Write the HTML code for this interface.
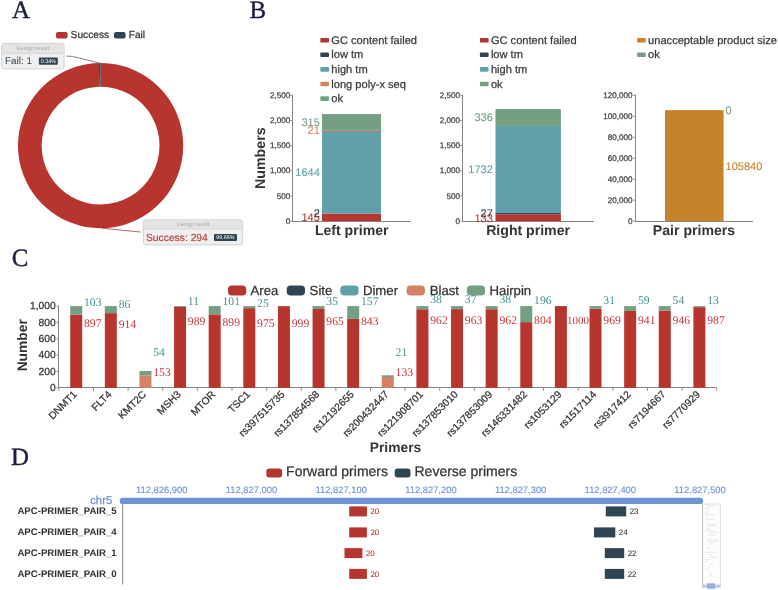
<!DOCTYPE html>
<html><head><meta charset="utf-8"><style>
html,body{margin:0;padding:0;background:#fff;}
body{width:778px;height:590px;overflow:hidden;font-family:"Liberation Sans",sans-serif;}
svg{display:block;text-rendering:geometricPrecision;}
#wrap{width:778px;height:590px;will-change:transform;}
</style></head><body>
<div id="wrap">
<svg width="778" height="590" viewBox="0 0 778 590">
<rect width="778" height="590" fill="#fff"/>
<text x="0" y="0" font-size="250" fill="#1b1f3d" stroke="#1b1f3d" stroke-width="4" font-family="Liberation Serif" transform="translate(12.0,18.0) scale(0.1)">A</text>
<text x="0" y="0" font-size="250" fill="#1b1f3d" stroke="#1b1f3d" stroke-width="4" font-family="Liberation Serif" transform="translate(249.5,18.0) scale(0.1)">B</text>
<text x="0" y="0" font-size="250" fill="#1b1f3d" stroke="#1b1f3d" stroke-width="4" font-family="Liberation Serif" transform="translate(11.8,265.8) scale(0.1)">C</text>
<text x="0" y="0" font-size="250" fill="#1b1f3d" stroke="#1b1f3d" stroke-width="4" font-family="Liberation Serif" transform="translate(11.0,465.0) scale(0.1)">D</text>
<rect x="56.00" y="32.10" width="11.60" height="6.40" rx="2" fill="#b7352f" />
<text x="70.60" y="38.30" font-size="10.2" fill="#333" stroke="#333" stroke-width="0.25" text-anchor="start" font-weight="normal" font-family="Liberation Sans" >Success</text>
<rect x="114.00" y="32.10" width="11.60" height="6.40" rx="2" fill="#2f4554" />
<text x="128.70" y="38.30" font-size="10.2" fill="#333" stroke="#333" stroke-width="0.25" text-anchor="start" font-weight="normal" font-family="Liberation Sans" >Fail</text>
<path d="M100.600,63.000 A82.6,82.6 0 1 1 98.841,63.019 L99.346,86.713 A58.9,58.9 0 1 0 100.600,86.700 Z" fill="#b7352f"/>
<path d="M98.841,63.019 A82.6,82.6 0 0 1 100.599,63.000 L100.599,86.700 A58.9,58.9 0 0 0 99.346,86.713 Z" fill="#2f4554"/>
<rect x="1.60" y="43.40" width="62.50" height="25.50" rx="2.5" fill="#efefef" stroke="#d2d2d2" stroke-width="1"/>
<path d="M2.10,53.40 L2.10,45.90 Q2.10,43.90 4.10,43.90 L61.60,43.90 Q63.60,43.90 63.60,45.90 L63.60,53.40 Z" fill="#e4e4e4"/>
<line x1="2.10" y1="53.40" x2="63.60" y2="53.40" stroke="#d2d2d2" stroke-width="0.8"/>
<text x="32.85" y="50.15" font-size="5.6" fill="#aaa" text-anchor="middle" font-weight="normal" font-family="Liberation Sans" >Design result</text>
<text x="5.00" y="64.10" font-size="9.9" fill="#46525c" stroke="#46525c" stroke-width="0.1" text-anchor="start" font-weight="normal" font-family="Liberation Sans" >Fail: 1</text>
<rect x="38.90" y="57.60" width="18.90" height="7.20" rx="1" fill="#2f4554" />
<text x="48.35" y="62.90" font-size="5.4" fill="#fff" text-anchor="middle" font-weight="normal" font-family="Liberation Sans" >0.34%</text>
<polyline points="66.2,56.1 72.5,56.4 100.2,63.2" fill="none" stroke="#5f666c" stroke-width="0.8"/>
<rect x="143.40" y="219.80" width="99.30" height="25.10" rx="2.5" fill="#efefef" stroke="#d2d2d2" stroke-width="1"/>
<path d="M143.90,229.00 L143.90,222.30 Q143.90,220.30 145.90,220.30 L240.20,220.30 Q242.20,220.30 242.20,222.30 L242.20,229.00 Z" fill="#e4e4e4"/>
<line x1="143.90" y1="229.00" x2="242.20" y2="229.00" stroke="#d2d2d2" stroke-width="0.8"/>
<text x="193.05" y="226.15" font-size="5.6" fill="#aaa" text-anchor="middle" font-weight="normal" font-family="Liberation Sans" >Design result</text>
<text x="146.00" y="240.80" font-size="10.3" fill="#b7352f" stroke="#b7352f" stroke-width="0.1" text-anchor="start" font-weight="normal" font-family="Liberation Sans" >Success: 294</text>
<rect x="214.00" y="234.00" width="23.00" height="6.90" rx="1" fill="#2f4554" />
<text x="225.50" y="239.00" font-size="5.4" fill="#fff" text-anchor="middle" font-weight="normal" font-family="Liberation Sans" >99.66%</text>
<polyline points="102,228.2 140.4,232.0" fill="none" stroke="#b7352f" stroke-width="0.8"/>
<rect x="320.30" y="37.90" width="8.70" height="4.60" rx="1" fill="#b7352f" />
<text x="331.30" y="43.80" font-size="11.1" fill="#3a3a3a" stroke="#3a3a3a" stroke-width="0.25" text-anchor="start" font-weight="normal" font-family="Liberation Sans" >GC content failed</text>
<rect x="320.30" y="52.50" width="8.70" height="4.60" rx="1" fill="#2f4554" />
<text x="331.30" y="58.40" font-size="11.1" fill="#3a3a3a" stroke="#3a3a3a" stroke-width="0.25" text-anchor="start" font-weight="normal" font-family="Liberation Sans" >low tm</text>
<rect x="320.30" y="67.10" width="8.70" height="4.60" rx="1" fill="#61a0a8" />
<text x="331.30" y="73.00" font-size="11.1" fill="#3a3a3a" stroke="#3a3a3a" stroke-width="0.25" text-anchor="start" font-weight="normal" font-family="Liberation Sans" >high tm</text>
<rect x="320.30" y="81.70" width="8.70" height="4.60" rx="1" fill="#d48265" />
<text x="331.30" y="87.60" font-size="11.1" fill="#3a3a3a" stroke="#3a3a3a" stroke-width="0.25" text-anchor="start" font-weight="normal" font-family="Liberation Sans" >long poly-x seq</text>
<rect x="320.30" y="96.30" width="8.70" height="4.60" rx="1" fill="#749f83" />
<text x="331.30" y="102.20" font-size="11.1" fill="#3a3a3a" stroke="#3a3a3a" stroke-width="0.25" text-anchor="start" font-weight="normal" font-family="Liberation Sans" >ok</text>
<rect x="479.90" y="37.90" width="8.70" height="4.60" rx="1" fill="#b7352f" />
<text x="490.90" y="43.80" font-size="11.1" fill="#3a3a3a" stroke="#3a3a3a" stroke-width="0.25" text-anchor="start" font-weight="normal" font-family="Liberation Sans" >GC content failed</text>
<rect x="479.90" y="52.50" width="8.70" height="4.60" rx="1" fill="#2f4554" />
<text x="490.90" y="58.40" font-size="11.1" fill="#3a3a3a" stroke="#3a3a3a" stroke-width="0.25" text-anchor="start" font-weight="normal" font-family="Liberation Sans" >low tm</text>
<rect x="479.90" y="67.10" width="8.70" height="4.60" rx="1" fill="#61a0a8" />
<text x="490.90" y="73.00" font-size="11.1" fill="#3a3a3a" stroke="#3a3a3a" stroke-width="0.25" text-anchor="start" font-weight="normal" font-family="Liberation Sans" >high tm</text>
<rect x="479.90" y="81.70" width="8.70" height="4.60" rx="1" fill="#749f83" />
<text x="490.90" y="87.60" font-size="11.1" fill="#3a3a3a" stroke="#3a3a3a" stroke-width="0.25" text-anchor="start" font-weight="normal" font-family="Liberation Sans" >ok</text>
<rect x="637.10" y="37.90" width="8.70" height="4.60" rx="1" fill="#c5842a" />
<text x="648.10" y="43.80" font-size="11.1" fill="#3a3a3a" stroke="#3a3a3a" stroke-width="0.25" text-anchor="start" font-weight="normal" font-family="Liberation Sans" >unacceptable product size</text>
<rect x="637.10" y="52.50" width="8.70" height="4.60" rx="1" fill="#749f83" />
<text x="648.10" y="58.40" font-size="11.1" fill="#3a3a3a" stroke="#3a3a3a" stroke-width="0.25" text-anchor="start" font-weight="normal" font-family="Liberation Sans" >ok</text>
<line x1="292.50" y1="94.80" x2="292.50" y2="221.50" stroke="#858585" stroke-width="1"/>
<line x1="290.30" y1="95.30" x2="292.50" y2="95.30" stroke="#858585" stroke-width="0.9"/>
<text x="290.30" y="97.90" font-size="8.1" fill="#444" stroke="#444" stroke-width="0.25" text-anchor="end" font-weight="normal" font-family="Liberation Sans" >2,500</text>
<line x1="290.30" y1="120.46" x2="292.50" y2="120.46" stroke="#858585" stroke-width="0.9"/>
<text x="290.30" y="123.06" font-size="8.1" fill="#444" stroke="#444" stroke-width="0.25" text-anchor="end" font-weight="normal" font-family="Liberation Sans" >2,000</text>
<line x1="290.30" y1="145.62" x2="292.50" y2="145.62" stroke="#858585" stroke-width="0.9"/>
<text x="290.30" y="148.22" font-size="8.1" fill="#444" stroke="#444" stroke-width="0.25" text-anchor="end" font-weight="normal" font-family="Liberation Sans" >1,500</text>
<line x1="290.30" y1="170.78" x2="292.50" y2="170.78" stroke="#858585" stroke-width="0.9"/>
<text x="290.30" y="173.38" font-size="8.1" fill="#444" stroke="#444" stroke-width="0.25" text-anchor="end" font-weight="normal" font-family="Liberation Sans" >1,000</text>
<line x1="290.30" y1="195.94" x2="292.50" y2="195.94" stroke="#858585" stroke-width="0.9"/>
<text x="290.30" y="198.54" font-size="8.1" fill="#444" stroke="#444" stroke-width="0.25" text-anchor="end" font-weight="normal" font-family="Liberation Sans" >500</text>
<line x1="290.30" y1="221.10" x2="292.50" y2="221.10" stroke="#858585" stroke-width="0.9"/>
<text x="290.30" y="223.70" font-size="8.1" fill="#444" stroke="#444" stroke-width="0.25" text-anchor="end" font-weight="normal" font-family="Liberation Sans" >0</text>
<line x1="292.50" y1="221.50" x2="410.60" y2="221.50" stroke="#858585" stroke-width="1"/>
<line x1="462.50" y1="94.80" x2="462.50" y2="221.50" stroke="#858585" stroke-width="1"/>
<line x1="460.30" y1="95.30" x2="462.50" y2="95.30" stroke="#858585" stroke-width="0.9"/>
<text x="459.90" y="97.90" font-size="8.1" fill="#444" stroke="#444" stroke-width="0.25" text-anchor="end" font-weight="normal" font-family="Liberation Sans" >2,500</text>
<line x1="460.30" y1="120.46" x2="462.50" y2="120.46" stroke="#858585" stroke-width="0.9"/>
<text x="459.90" y="123.06" font-size="8.1" fill="#444" stroke="#444" stroke-width="0.25" text-anchor="end" font-weight="normal" font-family="Liberation Sans" >2,000</text>
<line x1="460.30" y1="145.62" x2="462.50" y2="145.62" stroke="#858585" stroke-width="0.9"/>
<text x="459.90" y="148.22" font-size="8.1" fill="#444" stroke="#444" stroke-width="0.25" text-anchor="end" font-weight="normal" font-family="Liberation Sans" >1,500</text>
<line x1="460.30" y1="170.78" x2="462.50" y2="170.78" stroke="#858585" stroke-width="0.9"/>
<text x="459.90" y="173.38" font-size="8.1" fill="#444" stroke="#444" stroke-width="0.25" text-anchor="end" font-weight="normal" font-family="Liberation Sans" >1,000</text>
<line x1="460.30" y1="195.94" x2="462.50" y2="195.94" stroke="#858585" stroke-width="0.9"/>
<text x="459.90" y="198.54" font-size="8.1" fill="#444" stroke="#444" stroke-width="0.25" text-anchor="end" font-weight="normal" font-family="Liberation Sans" >500</text>
<line x1="460.30" y1="221.10" x2="462.50" y2="221.10" stroke="#858585" stroke-width="0.9"/>
<text x="459.90" y="223.70" font-size="8.1" fill="#444" stroke="#444" stroke-width="0.25" text-anchor="end" font-weight="normal" font-family="Liberation Sans" >0</text>
<line x1="462.50" y1="221.50" x2="593.90" y2="221.50" stroke="#858585" stroke-width="1"/>
<line x1="635.50" y1="94.80" x2="635.50" y2="221.50" stroke="#858585" stroke-width="1"/>
<line x1="633.30" y1="95.30" x2="635.50" y2="95.30" stroke="#858585" stroke-width="0.9"/>
<text x="632.50" y="97.90" font-size="8.1" fill="#444" stroke="#444" stroke-width="0.25" text-anchor="end" font-weight="normal" font-family="Liberation Sans" >120,000</text>
<line x1="633.30" y1="116.27" x2="635.50" y2="116.27" stroke="#858585" stroke-width="0.9"/>
<text x="632.50" y="118.87" font-size="8.1" fill="#444" stroke="#444" stroke-width="0.25" text-anchor="end" font-weight="normal" font-family="Liberation Sans" >100,000</text>
<line x1="633.30" y1="137.23" x2="635.50" y2="137.23" stroke="#858585" stroke-width="0.9"/>
<text x="632.50" y="139.83" font-size="8.1" fill="#444" stroke="#444" stroke-width="0.25" text-anchor="end" font-weight="normal" font-family="Liberation Sans" >80,000</text>
<line x1="633.30" y1="158.20" x2="635.50" y2="158.20" stroke="#858585" stroke-width="0.9"/>
<text x="632.50" y="160.80" font-size="8.1" fill="#444" stroke="#444" stroke-width="0.25" text-anchor="end" font-weight="normal" font-family="Liberation Sans" >60,000</text>
<line x1="633.30" y1="179.17" x2="635.50" y2="179.17" stroke="#858585" stroke-width="0.9"/>
<text x="632.50" y="181.77" font-size="8.1" fill="#444" stroke="#444" stroke-width="0.25" text-anchor="end" font-weight="normal" font-family="Liberation Sans" >40,000</text>
<line x1="633.30" y1="200.13" x2="635.50" y2="200.13" stroke="#858585" stroke-width="0.9"/>
<text x="632.50" y="202.73" font-size="8.1" fill="#444" stroke="#444" stroke-width="0.25" text-anchor="end" font-weight="normal" font-family="Liberation Sans" >20,000</text>
<line x1="633.30" y1="221.10" x2="635.50" y2="221.10" stroke="#858585" stroke-width="0.9"/>
<text x="632.50" y="223.70" font-size="8.1" fill="#444" stroke="#444" stroke-width="0.25" text-anchor="end" font-weight="normal" font-family="Liberation Sans" >0</text>
<line x1="635.50" y1="221.50" x2="753.00" y2="221.50" stroke="#858585" stroke-width="1"/>
<rect x="322.00" y="213.80" width="59.00" height="7.30" rx="0" fill="#b7352f" />
<rect x="322.00" y="213.70" width="59.00" height="0.10" rx="0" fill="#2f4554" />
<rect x="322.00" y="130.98" width="59.00" height="82.73" rx="0" fill="#61a0a8" />
<rect x="322.00" y="129.92" width="59.00" height="1.06" rx="0" fill="#d48265" />
<rect x="322.00" y="114.07" width="59.00" height="15.85" rx="0" fill="#749f83" />
<text x="319.80" y="221.35" font-size="11.0" fill="#b7352f" stroke="#b7352f" stroke-width="0.1" text-anchor="end" font-weight="normal" font-family="Liberation Sans" >145</text>
<text x="319.80" y="216.75" font-size="11.0" fill="#2f4554" stroke="#2f4554" stroke-width="0.1" text-anchor="end" font-weight="normal" font-family="Liberation Sans" >2</text>
<text x="319.80" y="176.24" font-size="11.0" fill="#61a0a8" stroke="#61a0a8" stroke-width="0.1" text-anchor="end" font-weight="normal" font-family="Liberation Sans" >1644</text>
<text x="319.80" y="134.35" font-size="11.0" fill="#d48265" stroke="#d48265" stroke-width="0.1" text-anchor="end" font-weight="normal" font-family="Liberation Sans" >21</text>
<text x="319.80" y="125.89" font-size="11.0" fill="#749f83" stroke="#749f83" stroke-width="0.1" text-anchor="end" font-weight="normal" font-family="Liberation Sans" >315</text>
<rect x="495.50" y="214.41" width="65.40" height="6.69" rx="0" fill="#b7352f" />
<rect x="495.50" y="213.05" width="65.40" height="1.36" rx="0" fill="#2f4554" />
<rect x="495.50" y="125.89" width="65.40" height="87.15" rx="0" fill="#61a0a8" />
<rect x="495.50" y="108.99" width="65.40" height="16.91" rx="0" fill="#749f83" />
<text x="492.80" y="221.65" font-size="11.0" fill="#b7352f" stroke="#b7352f" stroke-width="0.1" text-anchor="end" font-weight="normal" font-family="Liberation Sans" >133</text>
<text x="492.80" y="216.73" font-size="11.0" fill="#2f4554" stroke="#2f4554" stroke-width="0.1" text-anchor="end" font-weight="normal" font-family="Liberation Sans" >27</text>
<text x="492.80" y="173.37" font-size="11.0" fill="#61a0a8" stroke="#61a0a8" stroke-width="0.1" text-anchor="end" font-weight="normal" font-family="Liberation Sans" >1732</text>
<text x="492.80" y="121.34" font-size="11.0" fill="#749f83" stroke="#749f83" stroke-width="0.1" text-anchor="end" font-weight="normal" font-family="Liberation Sans" >336</text>
<rect x="665.00" y="110.14" width="58.60" height="110.96" rx="0" fill="#c5842a" />
<text x="725.40" y="114.04" font-size="11.0" fill="#749f83" stroke="#749f83" stroke-width="0.1" text-anchor="start" font-weight="normal" font-family="Liberation Sans" >0</text>
<text x="725.60" y="169.52" font-size="11.0" fill="#c5842a" stroke="#c5842a" stroke-width="0.1" text-anchor="start" font-weight="normal" font-family="Liberation Sans" >105840</text>
<text x="351.70" y="234.60" font-size="14.1" fill="#333" text-anchor="middle" font-weight="bold" font-family="Liberation Sans" >Left primer</text>
<text x="528.10" y="234.60" font-size="14.1" fill="#333" text-anchor="middle" font-weight="bold" font-family="Liberation Sans" >Right primer</text>
<text x="694.00" y="234.60" font-size="14.1" fill="#333" text-anchor="middle" font-weight="bold" font-family="Liberation Sans" >Pair primers</text>
<text x="0.00" y="0.00" font-size="14.2" fill="#333" text-anchor="middle" font-weight="bold" font-family="Liberation Sans" transform="translate(265.0,158.2) rotate(-90)">Numbers</text>
<rect x="228.00" y="285.60" width="18.30" height="10.00" rx="4" fill="#b7352f" />
<text x="250.50" y="295.10" font-size="13.2" fill="#333" stroke="#333" stroke-width="0.25" text-anchor="start" font-weight="normal" font-family="Liberation Sans" >Area</text>
<rect x="286.70" y="285.60" width="18.30" height="10.00" rx="4" fill="#2f4554" />
<text x="309.60" y="295.10" font-size="13.2" fill="#333" stroke="#333" stroke-width="0.25" text-anchor="start" font-weight="normal" font-family="Liberation Sans" >Site</text>
<rect x="340.30" y="285.60" width="18.30" height="10.00" rx="4" fill="#61a0a8" />
<text x="362.90" y="295.10" font-size="13.2" fill="#333" stroke="#333" stroke-width="0.25" text-anchor="start" font-weight="normal" font-family="Liberation Sans" >Dimer</text>
<rect x="406.60" y="285.60" width="18.30" height="10.00" rx="4" fill="#d48265" />
<text x="429.70" y="295.10" font-size="13.2" fill="#333" stroke="#333" stroke-width="0.25" text-anchor="start" font-weight="normal" font-family="Liberation Sans" >Blast</text>
<rect x="466.80" y="285.60" width="18.30" height="10.00" rx="4" fill="#749f83" />
<text x="489.40" y="295.10" font-size="13.2" fill="#333" stroke="#333" stroke-width="0.25" text-anchor="start" font-weight="normal" font-family="Liberation Sans" >Hairpin</text>
<line x1="58.50" y1="305.60" x2="58.50" y2="387.50" stroke="#858585" stroke-width="1"/>
<line x1="56.40" y1="306.10" x2="58.90" y2="306.10" stroke="#858585" stroke-width="0.9"/>
<text x="55.70" y="309.30" font-size="10.3" fill="#333" stroke="#333" stroke-width="0.25" text-anchor="end" font-weight="normal" font-family="Liberation Sans" >1,000</text>
<line x1="56.40" y1="322.46" x2="58.90" y2="322.46" stroke="#858585" stroke-width="0.9"/>
<text x="55.70" y="325.66" font-size="10.3" fill="#333" stroke="#333" stroke-width="0.25" text-anchor="end" font-weight="normal" font-family="Liberation Sans" >800</text>
<line x1="56.40" y1="338.82" x2="58.90" y2="338.82" stroke="#858585" stroke-width="0.9"/>
<text x="55.70" y="342.02" font-size="10.3" fill="#333" stroke="#333" stroke-width="0.25" text-anchor="end" font-weight="normal" font-family="Liberation Sans" >600</text>
<line x1="56.40" y1="355.18" x2="58.90" y2="355.18" stroke="#858585" stroke-width="0.9"/>
<text x="55.70" y="358.38" font-size="10.3" fill="#333" stroke="#333" stroke-width="0.25" text-anchor="end" font-weight="normal" font-family="Liberation Sans" >400</text>
<line x1="56.40" y1="371.54" x2="58.90" y2="371.54" stroke="#858585" stroke-width="0.9"/>
<text x="55.70" y="374.74" font-size="10.3" fill="#333" stroke="#333" stroke-width="0.25" text-anchor="end" font-weight="normal" font-family="Liberation Sans" >200</text>
<line x1="56.40" y1="387.90" x2="58.90" y2="387.90" stroke="#858585" stroke-width="0.9"/>
<text x="55.70" y="391.10" font-size="10.3" fill="#333" stroke="#333" stroke-width="0.25" text-anchor="end" font-weight="normal" font-family="Liberation Sans" >0</text>
<line x1="58.50" y1="387.50" x2="716.70" y2="387.50" stroke="#858585" stroke-width="1"/>
<line x1="58.90" y1="387.90" x2="58.90" y2="390.90" stroke="#858585" stroke-width="0.9"/>
<line x1="93.52" y1="387.90" x2="93.52" y2="390.90" stroke="#858585" stroke-width="0.9"/>
<line x1="128.14" y1="387.90" x2="128.14" y2="390.90" stroke="#858585" stroke-width="0.9"/>
<line x1="162.76" y1="387.90" x2="162.76" y2="390.90" stroke="#858585" stroke-width="0.9"/>
<line x1="197.38" y1="387.90" x2="197.38" y2="390.90" stroke="#858585" stroke-width="0.9"/>
<line x1="232.01" y1="387.90" x2="232.01" y2="390.90" stroke="#858585" stroke-width="0.9"/>
<line x1="266.63" y1="387.90" x2="266.63" y2="390.90" stroke="#858585" stroke-width="0.9"/>
<line x1="301.25" y1="387.90" x2="301.25" y2="390.90" stroke="#858585" stroke-width="0.9"/>
<line x1="335.87" y1="387.90" x2="335.87" y2="390.90" stroke="#858585" stroke-width="0.9"/>
<line x1="370.49" y1="387.90" x2="370.49" y2="390.90" stroke="#858585" stroke-width="0.9"/>
<line x1="405.11" y1="387.90" x2="405.11" y2="390.90" stroke="#858585" stroke-width="0.9"/>
<line x1="439.73" y1="387.90" x2="439.73" y2="390.90" stroke="#858585" stroke-width="0.9"/>
<line x1="474.35" y1="387.90" x2="474.35" y2="390.90" stroke="#858585" stroke-width="0.9"/>
<line x1="508.97" y1="387.90" x2="508.97" y2="390.90" stroke="#858585" stroke-width="0.9"/>
<line x1="543.59" y1="387.90" x2="543.59" y2="390.90" stroke="#858585" stroke-width="0.9"/>
<line x1="578.22" y1="387.90" x2="578.22" y2="390.90" stroke="#858585" stroke-width="0.9"/>
<line x1="612.84" y1="387.90" x2="612.84" y2="390.90" stroke="#858585" stroke-width="0.9"/>
<line x1="647.46" y1="387.90" x2="647.46" y2="390.90" stroke="#858585" stroke-width="0.9"/>
<line x1="682.08" y1="387.90" x2="682.08" y2="390.90" stroke="#858585" stroke-width="0.9"/>
<line x1="716.70" y1="387.90" x2="716.70" y2="390.90" stroke="#858585" stroke-width="0.9"/>
<rect x="70.21" y="314.53" width="12.00" height="73.37" rx="0" fill="#b7352f" />
<rect x="70.21" y="306.10" width="12.00" height="8.43" rx="0" fill="#749f83" />
<text x="84.01" y="326.60" font-size="11.7" fill="#c9393c" text-anchor="start" font-weight="normal" font-family="Liberation Serif" >897</text>
<text x="84.01" y="306.20" font-size="11.7" fill="#479393" text-anchor="start" font-weight="normal" font-family="Liberation Serif" >103</text>
<text x="0.00" y="0.00" font-size="10.25" fill="#333" stroke="#333" stroke-width="0.25" text-anchor="end" font-weight="normal" font-family="Liberation Sans" transform="translate(77.61,395.00) rotate(-45)">DNMT1</text>
<rect x="104.83" y="313.13" width="12.00" height="74.77" rx="0" fill="#b7352f" />
<rect x="104.83" y="306.10" width="12.00" height="7.03" rx="0" fill="#749f83" />
<text x="118.63" y="328.40" font-size="11.7" fill="#c9393c" text-anchor="start" font-weight="normal" font-family="Liberation Serif" >914</text>
<text x="118.63" y="307.50" font-size="11.7" fill="#479393" text-anchor="start" font-weight="normal" font-family="Liberation Serif" >86</text>
<text x="0.00" y="0.00" font-size="10.25" fill="#333" stroke="#333" stroke-width="0.25" text-anchor="end" font-weight="normal" font-family="Liberation Sans" transform="translate(112.23,395.00) rotate(-45)">FLT4</text>
<rect x="139.45" y="375.38" width="12.00" height="12.52" rx="0" fill="#d48265" />
<rect x="139.45" y="370.97" width="12.00" height="4.42" rx="0" fill="#749f83" />
<text x="153.25" y="375.80" font-size="11.7" fill="#c9393c" text-anchor="start" font-weight="normal" font-family="Liberation Serif" >153</text>
<text x="153.25" y="355.70" font-size="11.7" fill="#479393" text-anchor="start" font-weight="normal" font-family="Liberation Serif" >54</text>
<text x="0.00" y="0.00" font-size="10.25" fill="#333" stroke="#333" stroke-width="0.25" text-anchor="end" font-weight="normal" font-family="Liberation Sans" transform="translate(146.85,395.00) rotate(-45)">KMT2C</text>
<rect x="174.07" y="307.00" width="12.00" height="80.90" rx="0" fill="#b7352f" />
<rect x="174.07" y="306.10" width="12.00" height="0.90" rx="0" fill="#749f83" />
<text x="187.87" y="325.40" font-size="11.7" fill="#c9393c" text-anchor="start" font-weight="normal" font-family="Liberation Serif" >989</text>
<text x="187.87" y="305.40" font-size="11.7" fill="#479393" text-anchor="start" font-weight="normal" font-family="Liberation Serif" >11</text>
<text x="0.00" y="0.00" font-size="10.25" fill="#333" stroke="#333" stroke-width="0.25" text-anchor="end" font-weight="normal" font-family="Liberation Sans" transform="translate(181.47,395.00) rotate(-45)">MSH3</text>
<rect x="208.69" y="314.36" width="12.00" height="73.54" rx="0" fill="#b7352f" />
<rect x="208.69" y="306.10" width="12.00" height="8.26" rx="0" fill="#749f83" />
<text x="222.49" y="325.90" font-size="11.7" fill="#c9393c" text-anchor="start" font-weight="normal" font-family="Liberation Serif" >899</text>
<text x="222.49" y="305.40" font-size="11.7" fill="#479393" text-anchor="start" font-weight="normal" font-family="Liberation Serif" >101</text>
<text x="0.00" y="0.00" font-size="10.25" fill="#333" stroke="#333" stroke-width="0.25" text-anchor="end" font-weight="normal" font-family="Liberation Sans" transform="translate(216.09,395.00) rotate(-45)">MTOR</text>
<rect x="243.32" y="308.15" width="12.00" height="79.75" rx="0" fill="#b7352f" />
<rect x="243.32" y="306.10" width="12.00" height="2.05" rx="0" fill="#749f83" />
<text x="257.12" y="327.10" font-size="11.7" fill="#c9393c" text-anchor="start" font-weight="normal" font-family="Liberation Serif" >975</text>
<text x="257.12" y="306.50" font-size="11.7" fill="#479393" text-anchor="start" font-weight="normal" font-family="Liberation Serif" >25</text>
<text x="0.00" y="0.00" font-size="10.25" fill="#333" stroke="#333" stroke-width="0.25" text-anchor="end" font-weight="normal" font-family="Liberation Sans" transform="translate(250.72,395.00) rotate(-45)">TSC1</text>
<rect x="277.94" y="306.18" width="12.00" height="81.72" rx="0" fill="#b7352f" />
<rect x="277.94" y="306.10" width="12.00" height="0.08" rx="0" fill="#749f83" />
<text x="291.74" y="326.80" font-size="11.7" fill="#c9393c" text-anchor="start" font-weight="normal" font-family="Liberation Serif" >999</text>
<text x="0.00" y="0.00" font-size="10.25" fill="#333" stroke="#333" stroke-width="0.25" text-anchor="end" font-weight="normal" font-family="Liberation Sans" transform="translate(285.34,395.00) rotate(-45)">rs397515735</text>
<rect x="312.56" y="308.96" width="12.00" height="78.94" rx="0" fill="#b7352f" />
<rect x="312.56" y="306.10" width="12.00" height="2.86" rx="0" fill="#749f83" />
<text x="326.36" y="325.40" font-size="11.7" fill="#c9393c" text-anchor="start" font-weight="normal" font-family="Liberation Serif" >965</text>
<text x="326.36" y="304.90" font-size="11.7" fill="#479393" text-anchor="start" font-weight="normal" font-family="Liberation Serif" >35</text>
<text x="0.00" y="0.00" font-size="10.25" fill="#333" stroke="#333" stroke-width="0.25" text-anchor="end" font-weight="normal" font-family="Liberation Sans" transform="translate(319.96,395.00) rotate(-45)">rs137854568</text>
<rect x="347.18" y="318.94" width="12.00" height="68.96" rx="0" fill="#b7352f" />
<rect x="347.18" y="306.10" width="12.00" height="12.84" rx="0" fill="#749f83" />
<text x="360.98" y="325.10" font-size="11.7" fill="#c9393c" text-anchor="start" font-weight="normal" font-family="Liberation Serif" >843</text>
<text x="360.98" y="305.00" font-size="11.7" fill="#479393" text-anchor="start" font-weight="normal" font-family="Liberation Serif" >157</text>
<text x="0.00" y="0.00" font-size="10.25" fill="#333" stroke="#333" stroke-width="0.25" text-anchor="end" font-weight="normal" font-family="Liberation Sans" transform="translate(354.58,395.00) rotate(-45)">rs12192655</text>
<rect x="381.80" y="377.02" width="12.00" height="10.88" rx="0" fill="#d48265" />
<rect x="381.80" y="375.30" width="12.00" height="1.72" rx="0" fill="#749f83" />
<text x="395.60" y="375.80" font-size="11.7" fill="#c9393c" text-anchor="start" font-weight="normal" font-family="Liberation Serif" >133</text>
<text x="395.60" y="355.70" font-size="11.7" fill="#479393" text-anchor="start" font-weight="normal" font-family="Liberation Serif" >21</text>
<text x="0.00" y="0.00" font-size="10.25" fill="#333" stroke="#333" stroke-width="0.25" text-anchor="end" font-weight="normal" font-family="Liberation Sans" transform="translate(389.20,395.00) rotate(-45)">rs200432447</text>
<rect x="416.42" y="309.21" width="12.00" height="78.69" rx="0" fill="#b7352f" />
<rect x="416.42" y="306.10" width="12.00" height="3.11" rx="0" fill="#749f83" />
<text x="430.22" y="324.10" font-size="11.7" fill="#c9393c" text-anchor="start" font-weight="normal" font-family="Liberation Serif" >962</text>
<text x="430.22" y="303.20" font-size="11.7" fill="#479393" text-anchor="start" font-weight="normal" font-family="Liberation Serif" >38</text>
<text x="0.00" y="0.00" font-size="10.25" fill="#333" stroke="#333" stroke-width="0.25" text-anchor="end" font-weight="normal" font-family="Liberation Sans" transform="translate(423.82,395.00) rotate(-45)">rs121908701</text>
<rect x="451.04" y="309.13" width="12.00" height="78.77" rx="0" fill="#b7352f" />
<rect x="451.04" y="306.10" width="12.00" height="3.03" rx="0" fill="#749f83" />
<text x="464.84" y="324.10" font-size="11.7" fill="#c9393c" text-anchor="start" font-weight="normal" font-family="Liberation Serif" >963</text>
<text x="464.84" y="303.20" font-size="11.7" fill="#479393" text-anchor="start" font-weight="normal" font-family="Liberation Serif" >37</text>
<text x="0.00" y="0.00" font-size="10.25" fill="#333" stroke="#333" stroke-width="0.25" text-anchor="end" font-weight="normal" font-family="Liberation Sans" transform="translate(458.44,395.00) rotate(-45)">rs137853010</text>
<rect x="485.66" y="309.21" width="12.00" height="78.69" rx="0" fill="#b7352f" />
<rect x="485.66" y="306.10" width="12.00" height="3.11" rx="0" fill="#749f83" />
<text x="499.46" y="324.10" font-size="11.7" fill="#c9393c" text-anchor="start" font-weight="normal" font-family="Liberation Serif" >962</text>
<text x="499.46" y="303.20" font-size="11.7" fill="#479393" text-anchor="start" font-weight="normal" font-family="Liberation Serif" >38</text>
<text x="0.00" y="0.00" font-size="10.25" fill="#333" stroke="#333" stroke-width="0.25" text-anchor="end" font-weight="normal" font-family="Liberation Sans" transform="translate(493.06,395.00) rotate(-45)">rs137853009</text>
<rect x="520.28" y="322.13" width="12.00" height="65.77" rx="0" fill="#b7352f" />
<rect x="520.28" y="306.10" width="12.00" height="16.03" rx="0" fill="#749f83" />
<text x="534.08" y="323.70" font-size="11.7" fill="#c9393c" text-anchor="start" font-weight="normal" font-family="Liberation Serif" >804</text>
<text x="534.08" y="303.70" font-size="11.7" fill="#479393" text-anchor="start" font-weight="normal" font-family="Liberation Serif" >196</text>
<text x="0.00" y="0.00" font-size="10.25" fill="#333" stroke="#333" stroke-width="0.25" text-anchor="end" font-weight="normal" font-family="Liberation Sans" transform="translate(527.68,395.00) rotate(-45)">rs146331482</text>
<rect x="554.91" y="306.10" width="12.00" height="81.80" rx="0" fill="#b7352f" />
<text x="566.91" y="324.10" font-size="11.0" fill="#c9393c" text-anchor="start" font-weight="normal" font-family="Liberation Serif" >1000</text>
<text x="0.00" y="0.00" font-size="10.25" fill="#333" stroke="#333" stroke-width="0.25" text-anchor="end" font-weight="normal" font-family="Liberation Sans" transform="translate(562.31,395.00) rotate(-45)">rs1053129</text>
<rect x="589.53" y="308.64" width="12.00" height="79.26" rx="0" fill="#b7352f" />
<rect x="589.53" y="306.10" width="12.00" height="2.54" rx="0" fill="#749f83" />
<text x="603.33" y="324.10" font-size="11.7" fill="#c9393c" text-anchor="start" font-weight="normal" font-family="Liberation Serif" >969</text>
<text x="603.33" y="303.70" font-size="11.7" fill="#479393" text-anchor="start" font-weight="normal" font-family="Liberation Serif" >31</text>
<text x="0.00" y="0.00" font-size="10.25" fill="#333" stroke="#333" stroke-width="0.25" text-anchor="end" font-weight="normal" font-family="Liberation Sans" transform="translate(596.93,395.00) rotate(-45)">rs1517114</text>
<rect x="624.15" y="310.93" width="12.00" height="76.97" rx="0" fill="#b7352f" />
<rect x="624.15" y="306.10" width="12.00" height="4.83" rx="0" fill="#749f83" />
<text x="637.95" y="324.10" font-size="11.7" fill="#c9393c" text-anchor="start" font-weight="normal" font-family="Liberation Serif" >941</text>
<text x="637.95" y="303.70" font-size="11.7" fill="#479393" text-anchor="start" font-weight="normal" font-family="Liberation Serif" >59</text>
<text x="0.00" y="0.00" font-size="10.25" fill="#333" stroke="#333" stroke-width="0.25" text-anchor="end" font-weight="normal" font-family="Liberation Sans" transform="translate(631.55,395.00) rotate(-45)">rs3917412</text>
<rect x="658.77" y="310.52" width="12.00" height="77.38" rx="0" fill="#b7352f" />
<rect x="658.77" y="306.10" width="12.00" height="4.42" rx="0" fill="#749f83" />
<text x="672.57" y="324.10" font-size="11.7" fill="#c9393c" text-anchor="start" font-weight="normal" font-family="Liberation Serif" >946</text>
<text x="672.57" y="303.80" font-size="11.7" fill="#479393" text-anchor="start" font-weight="normal" font-family="Liberation Serif" >54</text>
<text x="0.00" y="0.00" font-size="10.25" fill="#333" stroke="#333" stroke-width="0.25" text-anchor="end" font-weight="normal" font-family="Liberation Sans" transform="translate(666.17,395.00) rotate(-45)">rs7194667</text>
<rect x="693.39" y="307.16" width="12.00" height="80.74" rx="0" fill="#b7352f" />
<rect x="693.39" y="306.10" width="12.00" height="1.06" rx="0" fill="#749f83" />
<text x="707.19" y="324.10" font-size="11.7" fill="#c9393c" text-anchor="start" font-weight="normal" font-family="Liberation Serif" >987</text>
<text x="707.19" y="303.80" font-size="11.7" fill="#479393" text-anchor="start" font-weight="normal" font-family="Liberation Serif" >13</text>
<text x="0.00" y="0.00" font-size="10.25" fill="#333" stroke="#333" stroke-width="0.25" text-anchor="end" font-weight="normal" font-family="Liberation Sans" transform="translate(700.79,395.00) rotate(-45)">rs7770929</text>
<text x="0.00" y="0.00" font-size="13.8" fill="#333" text-anchor="middle" font-weight="bold" font-family="Liberation Sans" transform="translate(27.2,345.3) rotate(-90)">Number</text>
<text x="395.50" y="452.00" font-size="13.8" fill="#333" text-anchor="middle" font-weight="bold" font-family="Liberation Sans" >Primers</text>
<rect x="266.30" y="468.60" width="15.80" height="8.90" rx="3" fill="#b7352f" />
<text x="286.10" y="476.20" font-size="14.0" fill="#333" stroke="#333" stroke-width="0.25" text-anchor="start" font-weight="normal" font-family="Liberation Sans" >Forward primers</text>
<rect x="394.70" y="468.60" width="15.80" height="8.90" rx="3" fill="#2f4554" />
<text x="414.50" y="476.20" font-size="14.0" fill="#333" stroke="#333" stroke-width="0.25" text-anchor="start" font-weight="normal" font-family="Liberation Sans" >Reverse primers</text>
<text x="112.20" y="504.30" font-size="11.3" fill="#6b8fd6" stroke="#6b8fd6" stroke-width="0.25" text-anchor="end" font-weight="normal" font-family="Liberation Sans" >chr5</text>
<rect x="119.70" y="497.70" width="583.50" height="6.40" rx="3.2" fill="#6f93d3" />
<text x="161.70" y="493.10" font-size="9.4" fill="#6b8fd6" stroke="#6b8fd6" stroke-width="0.1" text-anchor="middle" font-weight="normal" font-family="Liberation Sans" >112,826,900</text>
<text x="251.43" y="493.10" font-size="9.4" fill="#6b8fd6" stroke="#6b8fd6" stroke-width="0.1" text-anchor="middle" font-weight="normal" font-family="Liberation Sans" >112,827,000</text>
<text x="341.16" y="493.10" font-size="9.4" fill="#6b8fd6" stroke="#6b8fd6" stroke-width="0.1" text-anchor="middle" font-weight="normal" font-family="Liberation Sans" >112,827,100</text>
<text x="430.89" y="493.10" font-size="9.4" fill="#6b8fd6" stroke="#6b8fd6" stroke-width="0.1" text-anchor="middle" font-weight="normal" font-family="Liberation Sans" >112,827,200</text>
<text x="520.62" y="493.10" font-size="9.4" fill="#6b8fd6" stroke="#6b8fd6" stroke-width="0.1" text-anchor="middle" font-weight="normal" font-family="Liberation Sans" >112,827,300</text>
<text x="610.35" y="493.10" font-size="9.4" fill="#6b8fd6" stroke="#6b8fd6" stroke-width="0.1" text-anchor="middle" font-weight="normal" font-family="Liberation Sans" >112,827,400</text>
<text x="700.08" y="493.10" font-size="9.4" fill="#6b8fd6" stroke="#6b8fd6" stroke-width="0.1" text-anchor="middle" font-weight="normal" font-family="Liberation Sans" >112,827,500</text>
<line x1="122.70" y1="503.50" x2="122.70" y2="584.50" stroke="#777" stroke-width="0.9"/>
<text x="116.70" y="514.10" font-size="9.63" fill="#333" text-anchor="end" font-weight="bold" font-family="Liberation Sans" >APC-PRIMER_PAIR_5</text>
<rect x="349.20" y="506.40" width="17.70" height="10.00" rx="0" fill="#b7352f" />
<text x="370.40" y="514.20" font-size="7.9" fill="#b7352f" stroke="#b7352f" stroke-width="0.08" text-anchor="start" font-weight="normal" font-family="Liberation Sans" >20</text>
<rect x="605.80" y="506.40" width="20.40" height="10.00" rx="0" fill="#2f4554" />
<text x="629.70" y="514.20" font-size="7.9" fill="#333" stroke="#333" stroke-width="0.08" text-anchor="start" font-weight="normal" font-family="Liberation Sans" >23</text>
<text x="116.70" y="535.10" font-size="9.63" fill="#333" text-anchor="end" font-weight="bold" font-family="Liberation Sans" >APC-PRIMER_PAIR_4</text>
<rect x="349.20" y="527.40" width="17.70" height="10.00" rx="0" fill="#b7352f" />
<text x="370.40" y="535.20" font-size="7.9" fill="#b7352f" stroke="#b7352f" stroke-width="0.08" text-anchor="start" font-weight="normal" font-family="Liberation Sans" >20</text>
<rect x="594.00" y="527.40" width="21.30" height="10.00" rx="0" fill="#2f4554" />
<text x="618.80" y="535.20" font-size="7.9" fill="#333" stroke="#333" stroke-width="0.08" text-anchor="start" font-weight="normal" font-family="Liberation Sans" >24</text>
<text x="116.70" y="555.80" font-size="9.63" fill="#333" text-anchor="end" font-weight="bold" font-family="Liberation Sans" >APC-PRIMER_PAIR_1</text>
<rect x="344.50" y="548.10" width="17.90" height="10.00" rx="0" fill="#b7352f" />
<text x="365.90" y="555.90" font-size="7.9" fill="#b7352f" stroke="#b7352f" stroke-width="0.08" text-anchor="start" font-weight="normal" font-family="Liberation Sans" >20</text>
<rect x="604.80" y="548.10" width="19.40" height="10.00" rx="0" fill="#2f4554" />
<text x="627.70" y="555.90" font-size="7.9" fill="#333" stroke="#333" stroke-width="0.08" text-anchor="start" font-weight="normal" font-family="Liberation Sans" >22</text>
<text x="116.70" y="576.60" font-size="9.63" fill="#333" text-anchor="end" font-weight="bold" font-family="Liberation Sans" >APC-PRIMER_PAIR_0</text>
<rect x="349.20" y="568.90" width="17.70" height="10.00" rx="0" fill="#b7352f" />
<text x="370.40" y="576.70" font-size="7.9" fill="#b7352f" stroke="#b7352f" stroke-width="0.08" text-anchor="start" font-weight="normal" font-family="Liberation Sans" >20</text>
<rect x="604.80" y="568.90" width="19.40" height="10.00" rx="0" fill="#2f4554" />
<text x="627.70" y="576.70" font-size="7.9" fill="#333" stroke="#333" stroke-width="0.08" text-anchor="start" font-weight="normal" font-family="Liberation Sans" >22</text>
<rect x="702.4" y="504.0" width="17.9" height="83.6" fill="#fdfdfd" stroke="#cfcfcf" stroke-width="0.7"/>
<line x1="702.60" y1="504.00" x2="702.60" y2="587.60" stroke="#b9b9b9" stroke-width="0.8"/>
<line x1="706.5" y1="506.0" x2="714.5" y2="506.0" stroke="#d6d6d6" stroke-width="0.6"/>
<line x1="705.0" y1="508.6" x2="709.0" y2="508.6" stroke="#d6d6d6" stroke-width="0.6"/>
<line x1="706.5" y1="511.2" x2="708.5" y2="511.2" stroke="#d6d6d6" stroke-width="0.6"/>
<line x1="705.0" y1="513.0" x2="708.0" y2="513.0" stroke="#d6d6d6" stroke-width="0.6"/>
<line x1="705.0" y1="514.8" x2="715.0" y2="514.8" stroke="#d6d6d6" stroke-width="0.6"/>
<line x1="705.0" y1="519.2" x2="715.0" y2="519.2" stroke="#d6d6d6" stroke-width="0.6"/>
<line x1="706.5" y1="521.8" x2="708.5" y2="521.8" stroke="#d6d6d6" stroke-width="0.6"/>
<line x1="708.0" y1="524.4" x2="716.0" y2="524.4" stroke="#d6d6d6" stroke-width="0.6"/>
<line x1="708.0" y1="526.2" x2="718.0" y2="526.2" stroke="#d6d6d6" stroke-width="0.6"/>
<line x1="706.5" y1="528.8" x2="710.5" y2="528.8" stroke="#d6d6d6" stroke-width="0.6"/>
<line x1="705.0" y1="530.6" x2="715.0" y2="530.6" stroke="#d6d6d6" stroke-width="0.6"/>
<line x1="709.5" y1="532.4" x2="718.5" y2="532.4" stroke="#d6d6d6" stroke-width="0.6"/>
<line x1="708.0" y1="535.0" x2="716.0" y2="535.0" stroke="#d6d6d6" stroke-width="0.6"/>
<line x1="706.5" y1="539.8" x2="718.5" y2="539.8" stroke="#d6d6d6" stroke-width="0.6"/>
<line x1="708.0" y1="541.6" x2="718.0" y2="541.6" stroke="#d6d6d6" stroke-width="0.6"/>
<line x1="709.5" y1="543.8" x2="713.5" y2="543.8" stroke="#d6d6d6" stroke-width="0.6"/>
<line x1="706.5" y1="548.2" x2="710.5" y2="548.2" stroke="#d6d6d6" stroke-width="0.6"/>
<line x1="705.0" y1="552.2" x2="715.0" y2="552.2" stroke="#d6d6d6" stroke-width="0.6"/>
<line x1="708.0" y1="554.8" x2="712.0" y2="554.8" stroke="#d6d6d6" stroke-width="0.6"/>
<line x1="709.5" y1="557.4" x2="718.5" y2="557.4" stroke="#d6d6d6" stroke-width="0.6"/>
<line x1="705.0" y1="559.6" x2="709.0" y2="559.6" stroke="#d6d6d6" stroke-width="0.6"/>
<line x1="705.0" y1="561.8" x2="707.0" y2="561.8" stroke="#d6d6d6" stroke-width="0.6"/>
<line x1="709.5" y1="564.4" x2="713.5" y2="564.4" stroke="#d6d6d6" stroke-width="0.6"/>
<line x1="708.0" y1="567.0" x2="709.5" y2="567.0" stroke="#d6d6d6" stroke-width="0.6"/>
<line x1="705.0" y1="569.2" x2="707.0" y2="569.2" stroke="#d6d6d6" stroke-width="0.6"/>
<line x1="708.0" y1="571.0" x2="709.5" y2="571.0" stroke="#d6d6d6" stroke-width="0.6"/>
<line x1="709.5" y1="573.6" x2="711.5" y2="573.6" stroke="#d6d6d6" stroke-width="0.6"/>
<line x1="709.5" y1="575.4" x2="712.5" y2="575.4" stroke="#d6d6d6" stroke-width="0.6"/>
<rect x="702.40" y="584.60" width="17.90" height="2.90" rx="0" fill="#bccbe8" />
<rect x="707.00" y="583.30" width="8.00" height="5.50" rx="0" fill="#98afdc" />
</svg>
</div>
</body></html>
